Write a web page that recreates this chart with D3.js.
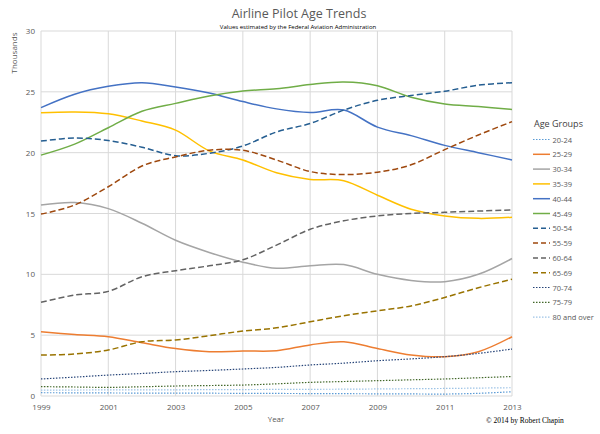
<!DOCTYPE html>
<html><head><meta charset="utf-8">
<script src="https://cdn.jsdelivr.net/npm/d3@7"></script>
<style>body{margin:0;background:#fff}svg{display:block}text{font-family:"Open Sans","Liberation Sans",sans-serif}</style>
</head><body><svg id="c" width="600" height="434"></svg>
<script>
const years = [1999,2000,2001,2002,2003,2004,2005,2006,2007,2008,2009,2010,2011,2012,2013];
const groups = ["20-24","25-29","30-34","35-39","40-44","45-49","50-54","55-59","60-64","65-69","70-74","75-79","80 and over"];
const v2024 = [0.27,0.26,0.25,0.24,0.24,0.23,0.22,0.21,0.2,0.19,0.18,0.17,0.16,0.22,0.35];
const v2529 = [5.28,5.05,4.87,4.38,3.9,3.64,3.7,3.72,4.2,4.46,3.9,3.37,3.23,3.64,4.87];
const v3034 = [15.7,15.9,15.4,14.2,12.8,11.8,11.0,10.5,10.7,10.8,10.0,9.5,9.4,10.0,11.3];
const v3539 = [23.28,23.35,23.2,22.6,21.85,20.15,19.4,18.35,17.8,17.7,16.5,15.35,14.8,14.6,14.7];
const v4044 = [23.7,24.8,25.45,25.75,25.4,24.9,24.2,23.6,23.3,23.5,22.1,21.4,20.6,20.0,19.4];
const v4549 = [19.8,20.7,22.05,23.4,24.05,24.65,25.06,25.25,25.6,25.8,25.5,24.55,24.0,23.8,23.55];
const v5054 = [20.95,21.2,21.0,20.45,19.75,19.95,20.55,21.7,22.4,23.5,24.3,24.7,25.05,25.55,25.75];
const v5559 = [14.95,15.7,17.2,18.9,19.65,20.2,20.2,19.4,18.45,18.2,18.4,19.0,20.25,21.45,22.55];
const v6064 = [7.7,8.3,8.6,9.8,10.3,10.7,11.2,12.4,13.7,14.4,14.8,15.0,15.1,15.2,15.3];
const v6569 = [3.37,3.45,3.78,4.46,4.6,4.96,5.34,5.6,6.1,6.6,7.0,7.4,8.1,8.9,9.6];
const v7074 = [1.4,1.55,1.72,1.85,2.0,2.1,2.22,2.35,2.55,2.7,2.9,3.05,3.23,3.5,3.86];
const v7579 = [0.77,0.74,0.71,0.76,0.82,0.86,0.9,1.0,1.12,1.19,1.26,1.33,1.4,1.5,1.6];
const v80 = [0.49,0.49,0.5,0.5,0.51,0.52,0.53,0.54,0.55,0.56,0.58,0.6,0.62,0.65,0.68];
const yTicks = [0,5,10,15,20,25,30];
const xTicks = [1999,2001,2003,2005,2007,2009,2011,2013];
const seriesValues = [v2024,v2529,v3034,v3539,v4044,v4549,v5054,v5559,v6064,v6569,v7074,v7579,v80];

const colors = ["#5B9BD5","#ED7D31","#A5A5A5","#FFC000","#4472C4","#70AD47","#255E91","#9E480E","#636363","#997300","#264478","#43682B","#9DC3E6"];
const dashes = ["1.5,1.5",null,null,null,null,null,"6,3","6,3","6,3","6,3","1.5,1.5","1.5,1.5","1.5,1.5"];

const svg = d3.select("#c");
const x = d3.scaleLinear().domain([1999,2013]).range([41,512]);
const y = d3.scaleLinear().domain([0,30]).range([396,31]);

// gridlines
svg.append("g").selectAll("line").data(yTicks).join("line")
  .attr("x1",41).attr("x2",512).attr("y1",d=>y(d)).attr("y2",d=>y(d))
  .attr("stroke","#D9D9D9").attr("stroke-width",1);
svg.append("g").selectAll("line").data(xTicks).join("line")
  .attr("x1",d=>x(d)).attr("x2",d=>x(d)).attr("y1",31).attr("y2",396)
  .attr("stroke","#D9D9D9").attr("stroke-width",1);

// axes
const ya = svg.append("g").attr("transform","translate(41,0)")
  .call(d3.axisLeft(y).tickValues(yTicks).tickSize(0).tickPadding(6));
ya.select(".domain").remove();
ya.selectAll("text").attr("fill","#595959").style("font-size","8px");
const xa = svg.append("g").attr("transform","translate(0,397)")
  .call(d3.axisBottom(x).tickValues(xTicks).tickFormat(d3.format("d")).tickSize(0).tickPadding(7));
xa.select(".domain").remove();
xa.selectAll("text").attr("fill","#595959").style("font-size","8px");

// lines
const line = d3.line().x((d,i)=>x(years[i])).y(d=>y(d)).curve(d3.curveCardinal.tension(0));
svg.append("g").selectAll("path").data(seriesValues).join("path")
  .attr("d",d=>line(d)).attr("fill","none")
  .attr("stroke",(d,i)=>colors[i]).attr("stroke-width",(d,i)=>dashes[i]==="1.5,1.5"?1.2:1.5)
  .attr("stroke-dasharray",(d,i)=>dashes[i]);

// titles
svg.append("text").attr("x",299).attr("y",18).attr("text-anchor","middle")
  .attr("fill","#595959").style("font-size","12.5px").text("Airline Pilot Age Trends");
svg.append("text").attr("x",298).attr("y",29).attr("text-anchor","middle")
  .attr("fill","#000").style("font-size","6px").text("Values estimated by the Federal Aviation Administration");
svg.append("text").attr("transform","translate(17,53) rotate(-90)").attr("text-anchor","middle")
  .attr("fill","#595959").style("font-size","8px").text("Thousands");
svg.append("text").attr("x",276).attr("y",422).attr("text-anchor","middle")
  .attr("fill","#595959").style("font-size","8px").text("Year");
svg.append("text").attr("x",486).attr("y",423)
  .attr("fill","#000").style("font-family","'Liberation Serif','DejaVu Serif',serif").style("font-size","7.5px").text("© 2014 by Robert Chapin");

// legend
svg.append("text").attr("x",534).attr("y",127).attr("fill","#404040").style("font-size","9px").text("Age Groups");
const lg = svg.append("g").selectAll("g").data(groups).join("g")
  .attr("transform",(d,i)=>`translate(533,${139.5+i*14.8})`);
lg.append("line").attr("x1",0).attr("x2",17).attr("y1",0).attr("y2",0)
  .attr("stroke",(d,i)=>colors[i]).attr("stroke-width",(d,i)=>dashes[i]==="1.5,1.5"?1.2:1.5)
  .attr("stroke-dasharray",(d,i)=>dashes[i]==="6,3"?"5,3":dashes[i]);
lg.append("text").attr("x",19.5).attr("y",3).attr("fill","#595959").style("font-size","7.5px").text(d=>d);
</script></body></html>
